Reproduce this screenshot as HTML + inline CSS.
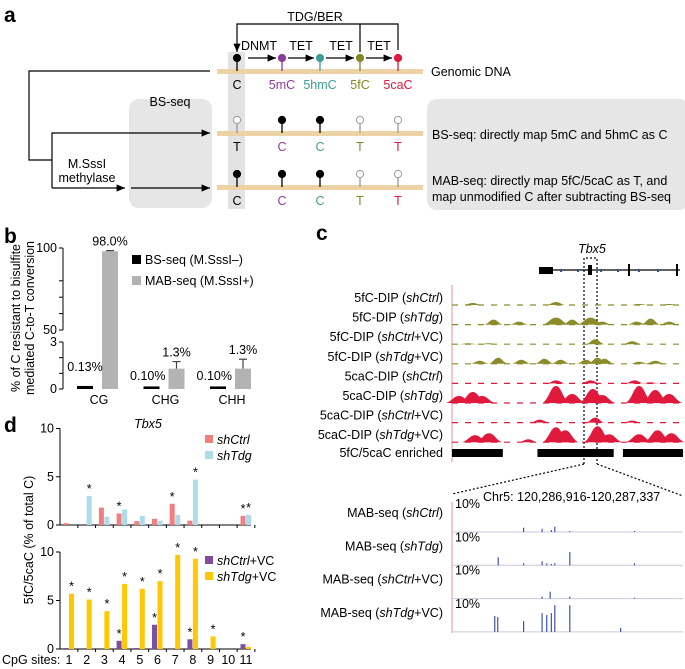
<!DOCTYPE html>
<html><head><meta charset="utf-8"><style>
body{margin:0;background:#fff}
svg{display:block;font-family:"Liberation Sans",Arial,sans-serif}
</style></head><body>
<svg id="fig" width="685" height="669" viewBox="0 0 685 669" xmlns="http://www.w3.org/2000/svg">
<defs>
<marker id="ar" markerWidth="8" markerHeight="8" refX="7" refY="4" orient="auto"><path d="M0,1 L7,4 L0,7 z" fill="#000"/></marker>
</defs>
<!-- Panel a -->
<g>
<text x="4" y="22" font-size="21" font-weight="bold">a</text>
<rect x="129" y="99" width="83" height="109" rx="10" fill="#e6e6e6"/>
<rect x="427" y="99" width="262" height="111" rx="10" fill="#e6e6e6"/>
<rect x="228" y="52" width="17" height="157" fill="#e3e3e3"/>
<text x="315" y="21" font-size="12.5" text-anchor="middle">TDG/BER</text>
<polyline points="398,50 398,24 237,24 237,52" fill="none" stroke="#000" stroke-width="1.2" marker-end="url(#ar)"/>
<line x1="360" y1="24" x2="360" y2="52" stroke="#000" stroke-width="1.2"/>
<text x="259" y="50" font-size="12.5" text-anchor="middle">DNMT</text>
<text x="301" y="50" font-size="12.5" text-anchor="middle">TET</text>
<text x="341" y="50" font-size="12.5" text-anchor="middle">TET</text>
<text x="379" y="50" font-size="12.5" text-anchor="middle">TET</text>
<g stroke="#000" stroke-width="1.2" marker-end="url(#ar)">
<line x1="248" y1="58" x2="276" y2="58"/><line x1="288" y1="58" x2="314" y2="58"/><line x1="326" y1="58" x2="354" y2="58"/><line x1="366" y1="58" x2="392" y2="58"/>
</g>
<rect x="217" y="69" width="206" height="5" fill="#ecd2a4"/>
<rect x="217" y="131" width="206" height="5" fill="#ecd2a4"/>
<rect x="217" y="185" width="206" height="5" fill="#ecd2a4"/>
<text x="431" y="76" font-size="12.5">Genomic DNA</text>
<g id="lolli"></g>
<g font-size="12.5" text-anchor="middle">
<text x="237" y="89">C</text><text x="282" y="89" fill="#8e3a9d">5mC</text><text x="320" y="89" fill="#3f9c96">5hmC</text><text x="360" y="89" fill="#7f8a23">5fC</text><text x="398" y="89" fill="#e0193d">5caC</text>
<text x="237" y="151">T</text><text x="282" y="151" fill="#8e3a9d">C</text><text x="320" y="151" fill="#3f9c96">C</text><text x="360" y="151" fill="#7f8a23">T</text><text x="398" y="151" fill="#e0193d">T</text>
<text x="237" y="205">C</text><text x="282" y="205" fill="#8e3a9d">C</text><text x="320" y="205" fill="#3f9c96">C</text><text x="360" y="205" fill="#7f8a23">T</text><text x="398" y="205" fill="#e0193d">T</text>
</g>
<polyline points="210,71 29,71 29,160 52,160" fill="none" stroke="#000" stroke-width="1.2"/>
<polyline points="52,188 52,133 210,133" fill="none" stroke="#000" stroke-width="1.2" marker-end="url(#ar)"/>
<polyline points="52,188 125,188" fill="none" stroke="#000" stroke-width="1.2" marker-end="url(#ar)"/>
<line x1="131" y1="188" x2="210" y2="188" stroke="#000" stroke-width="1.2" marker-end="url(#ar)"/>
<text x="170" y="106" font-size="12.5" text-anchor="middle">BS-seq</text>
<text x="87" y="168" font-size="12.5" text-anchor="middle">M.SssI</text>
<text x="87" y="182" font-size="12.5" text-anchor="middle">methylase</text>
<text x="432" y="139" font-size="12.5">BS-seq: directly map 5mC and 5hmC as C</text>
<text x="432" y="185" font-size="12.5">MAB-seq: directly map 5fC/5caC as T, and</text>
<text x="432" y="201" font-size="12.5">map unmodified C after subtracting BS-seq</text>
</g>
<!-- Panel b -->
<g id="pb">
<text x="4" y="243" font-size="21" font-weight="bold">b</text>
<text transform="translate(20,318) rotate(-90)" font-size="12.5" text-anchor="middle">% of C resistant to bisulfite</text>
<text transform="translate(34,318) rotate(-90)" font-size="12.5" text-anchor="middle">mediated C-to-T conversion</text>
<rect x="132" y="255" width="9" height="9" fill="#000"/>
<text x="145" y="264" font-size="12.5">BS-seq (M.SssI–)</text>
<rect x="132" y="276" width="9" height="9" fill="#b3b3b3"/>
<text x="145" y="285" font-size="12.5">MAB-seq (M.SssI+)</text>
</g>
<!-- Panel c -->
<g id="pc">
<text x="316" y="240" font-size="21" font-weight="bold">c</text>
<text x="592" y="253" font-size="12.5" font-style="italic" text-anchor="middle">Tbx5</text>
<line x1="539" y1="270" x2="680" y2="270" stroke="#000" stroke-width="1.3"/>
<rect x="539" y="267" width="14" height="7" fill="#000"/>
<rect x="588" y="265" width="4" height="10" fill="#000"/>
<rect x="628" y="264" width="2" height="12" fill="#000"/>
<rect x="676" y="264" width="2" height="12" fill="#000"/>
<g fill="#3050a0"><rect x="560" y="269" width="2" height="3"/><rect x="577" y="269" width="2" height="3"/><rect x="600" y="269" width="2" height="3"/><rect x="617" y="269" width="2" height="3"/><rect x="638" y="269" width="2" height="3"/><rect x="657" y="269" width="2" height="3"/></g>
<g stroke="#000" stroke-width="1.2" stroke-dasharray="2 2" fill="none">
<polyline points="584,464 584,258 597,258 597,464"/>
<line x1="584" y1="464" x2="452" y2="494"/><line x1="597" y1="464" x2="683" y2="496"/>
</g>
<line x1="452" y1="285" x2="452" y2="462" stroke="#f4a0a8" stroke-width="1.2"/>
<line x1="452" y1="502" x2="452" y2="633" stroke="#f4a0a8" stroke-width="1.2"/>
<text x="483" y="501" font-size="12.5">Chr5: 120,286,916-120,287,337</text>
<g id="tracks"></g>
<g id="mab"></g>
</g>
<!-- Panel d -->
<g id="pd">
<text x="4" y="432" font-size="21" font-weight="bold">d</text>
<text x="148" y="428" font-size="12.5" font-style="italic" text-anchor="middle">Tbx5</text>
<text transform="translate(33,540) rotate(-90)" font-size="12.5" text-anchor="middle">5fC/5caC (% of total C)</text>
<rect x="205" y="435" width="8" height="8" fill="#f07f7f"/><text x="217" y="444" font-size="12.5" font-style="italic">shCtrl</text>
<rect x="205" y="451" width="8" height="8" fill="#aedbea"/><text x="217" y="460" font-size="12.5" font-style="italic">shTdg</text>
<rect x="205" y="556" width="8" height="8" fill="#7e4ea1"/><text x="217" y="565" font-size="12.5"><tspan font-style="italic">shCtrl</tspan>+VC</text>
<rect x="205" y="572" width="8" height="8" fill="#ffc800"/><text x="217" y="581" font-size="12.5"><tspan font-style="italic">shTdg</tspan>+VC</text>
<text x="2" y="664" font-size="12.5">CpG sites:</text>
</g>
</svg>
<script>
// ---------- Panel b data ----------
const bCategories = ["CG","CHG","CHH"];
const bsValues = [0.13,0.10,0.10];
const mabValues = [98.0,1.3,1.3];
const mabErr = [0.4,0.45,0.6];
const bsLabels = ["0.13%","0.10%","0.10%"];
const mabLabels = ["98.0%","1.3%","1.3%"];
const bUpperTicks = [50,60,70,80,100];
const bLowerTicks = [0,1,2,3];
// ---------- Panel d data ----------
const sites = ["1","2","3","4","5","6","7","8","9","10","11"];
const shCtrl = [0.2,0,1.8,1.2,0.4,0.65,2.2,0.45,0,0,0.95];
const shTdg = [0,3.0,0.85,1.6,0.95,0.45,1.05,4.7,0,0,1.05];
const shCtrlVC = [0.1,0,0,0.85,0.1,2.5,0,1.0,0,0,0.5];
const shTdgVC = [5.7,5.1,3.9,6.7,6.2,7.0,9.7,9.3,1.3,0,0.2];
const starsTopCtrl = [4,7,11];
const starsTopTdg = [2,8,11];
const starsBotCtrl = [4,6,8,11];
const starsBotTdg = [1,2,3,4,5,6,7,8,9];
const dTicks = [0,5,10];
// ---------- Panel c data (positions 0-100 across locus, heights in relative units) ----------
const trackNames = ["5fC-DIP (|shCtrl|)","5fC-DIP (|shTdg|)","5fC-DIP (|shCtrl|+VC)","5fC-DIP (|shTdg|+VC)","5caC-DIP (|shCtrl|)","5caC-DIP (|shTdg|)","5caC-DIP (|shCtrl|+VC)","5caC-DIP (|shTdg|+VC)"];
const peaks0 = [[9,2],[45,3],[81,1],[94,1]];
const peaks1 = [[18,5],[29,3],[45,7],[52,5],[60,7],[65,3],[80,3],[86,6],[94,3]];
const peaks2 = [[7,1],[16,1],[62,5],[78,3]];
const peaks3 = [[12,3],[20,6],[30,4],[40,5],[47,4],[58,4],[63,6],[66,5],[81,2],[88,3]];
const peaks4 = [[45,3],[60,3],[79,3],[86,1]];
const peaks5 = [[3,7],[9,11],[13,7],[45,17],[52,9],[61,14],[65,8],[81,17],[88,13],[94,9]];
const peaks6 = [[38,3],[62,5],[78,2]];
const peaks7 = [[10,7],[16,9],[33,3],[45,15],[49,12],[63,16],[68,8],[81,8],[89,12],[95,9]];
const enriched = [[0,22],[37,70],[74,100]];
const mabNames = ["MAB-seq (|shCtrl|)","MAB-seq (|shTdg|)","MAB-seq (|shCtrl|+VC)","MAB-seq (|shTdg|+VC)"];
const mab0 = [[31,1.3],[39,1],[43,0.6],[44.5,1.6],[51,0.3],[79,0.3]];
const mab1 = [[20,2.4],[31,0.6],[39,1.2],[41,0.6],[43,0.4],[44.5,0.6],[51,4],[79,0.6]];
const mab2 = [[39,0.6],[42.5,2.1],[51,0.6],[79,0.3]];
const mab3 = [[18.5,4.8],[19.8,4.5],[31,3.3],[39,5.7],[41,5.1],[43,5.7],[44.5,8.1],[51,8.1],[73,1.2]];

const NS="http://www.w3.org/2000/svg";
function mk(parent,tag,attrs,text){const e=document.createElementNS(NS,tag);for(const k in attrs)e.setAttribute(k,attrs[k]);if(text!==undefined)e.textContent=text;parent.appendChild(e);return e;}
function richText(parent,x,y,str,anchor){const t=mk(parent,"text",{x:x,y:y,"font-size":12.5,"text-anchor":anchor});str.split("|").forEach((s,i)=>{const sp=mk(t,"tspan",{});sp.textContent=s;if(i%2===1)sp.setAttribute("font-style","italic");});return t;}

// ---------- lollipops (panel a) ----------
const lol=document.getElementById("lolli");
const lx=[237,282,320,360,398];
const rowDefs=[[71,["#000","#8e3a9d","#3f9c96","#7f8a23","#e0193d"],[1,1,1,1,1]],[133,["#999","#000","#000","#999","#999"],[0,1,1,0,0]],[187,["#000","#000","#000","#999","#999"],[1,1,1,0,0]]];
rowDefs.forEach(r=>{lx.forEach((x,i)=>{mk(lol,"line",{x1:x,y1:r[0],x2:x,y2:r[0]-12,stroke:r[1][i],"stroke-width":1.3});mk(lol,"circle",{cx:x,cy:r[0]-13,r:3.6,fill:r[2][i]?r[1][i]:"#fff",stroke:r[1][i],"stroke-width":1});});});

// ---------- Panel b ----------
const pb=document.getElementById("pb");
function yb(v){return v>=50?330-(v-50)*1.64:389-v*15.67;}
const bAxX=63;
mk(pb,"line",{x1:bAxX,y1:yb(100),x2:bAxX,y2:yb(50),stroke:"#000"});
mk(pb,"line",{x1:bAxX,y1:yb(3),x2:bAxX,y2:yb(0),stroke:"#000"});
bUpperTicks.concat(bLowerTicks).forEach(t=>{const y=yb(t);mk(pb,"line",{x1:bAxX-4,y1:y,x2:bAxX,y2:y,stroke:"#000"});});
[100,50,3,0].forEach(t=>{const tx=mk(pb,"text",{x:bAxX-6,y:yb(t)+4,"font-size":12.5,"text-anchor":"end"},String(t));

});
bCategories.forEach((c,i)=>{const cx=99+i*66.5;
 const b1=mk(pb,"rect",{x:cx-22,y:yb(bsValues[i])-1,width:16,height:389-yb(bsValues[i])+1,fill:"#000"});
 
 
 const b2=mk(pb,"rect",{x:cx+3,y:yb(mabValues[i]),width:16,height:389-yb(mabValues[i]),fill:"#b3b3b3"});
 
 
 const et=yb(mabValues[i]+mabErr[i]);
 mk(pb,"line",{x1:cx+11,y1:et,x2:cx+11,y2:yb(mabValues[i]),stroke:"#444","stroke-width":1.2});
 mk(pb,"line",{x1:cx+7,y1:et,x2:cx+15,y2:et,stroke:"#444","stroke-width":1.2});
 mk(pb,"text",{x:cx+11,y:i===0?yb(mabValues[i])-6:et-5,"font-size":12.5,"text-anchor":"middle"},mabLabels[i]);
 mk(pb,"text",{x:cx-(i===0?14:0),y:i===0?371:380,"font-size":12.5,"text-anchor":i===0?"middle":"end"},bsLabels[i]);
 const cl=mk(pb,"text",{x:cx,y:404,"font-size":12.5,"text-anchor":"middle"},c);
 
 
});

// ---------- Panel d ----------
const pd=document.getElementById("pd");
function sx(i){return 69+i*17.7;}
function yT(v){return 525-v*9.65;}
function yBt(v){return 649-v*9.7;}
function drawAxes(yf){
 mk(pd,"line",{x1:60,y1:yf(10),x2:60,y2:yf(0),stroke:"#000"});
 mk(pd,"line",{x1:60,y1:yf(0),x2:251,y2:yf(0),stroke:"#000"});
 dTicks.forEach(t=>{mk(pd,"line",{x1:56,y1:yf(t),x2:60,y2:yf(t),stroke:"#000"});
  const tl=mk(pd,"text",{x:54,y:yf(t)+4,"font-size":12.5,"text-anchor":"end"},String(t));
  
  });
 sites.forEach((s,i)=>{mk(pd,"line",{x1:sx(i)+8.85,y1:yf(0),x2:sx(i)+8.85,y2:yf(0)+3,stroke:"#000"});});
}
drawAxes(yT);drawAxes(yBt);
sites.forEach((s,i)=>{const l=mk(pd,"text",{x:sx(i),y:664,"font-size":12.5,"text-anchor":"middle"},s);
 
 });
function bars(vals,yf,off,col,name){vals.forEach((v,i)=>{if(v<=0)return;const r=mk(pd,"rect",{x:sx(i)+off,y:yf(v),width:5,height:yf(0)-yf(v),fill:col});
 
 });}
bars(shCtrl,yT,-5.5,"#f07f7f","bar-shctrl");
bars(shTdg,yT,0,"#aedbea","bar-shtdg");
bars(shCtrlVC,yBt,-5.5,"#7e4ea1","bar-shctrl-vc");
bars(shTdgVC,yBt,0,"#ffc800","bar-shtdg-vc");
function stars(list,vals,yf,off){list.forEach(s=>{const i=s-1;mk(pd,"text",{x:sx(i)+off,y:yf(vals[i])-3,"font-size":12.5,"text-anchor":"middle"},"*");});}
stars(starsTopCtrl,shCtrl,yT,-3);stars(starsTopTdg,shTdg,yT,2.5);
stars(starsBotCtrl,shCtrlVC,yBt,-3);stars(starsBotTdg,shTdgVC,yBt,2.5);

// ---------- Panel c ----------
const tr=document.getElementById("tracks");
function px(p){return 452+p*2.31;}
const allPeaks=[peaks0,peaks1,peaks2,peaks3,peaks4,peaks5,peaks6,peaks7];
allPeaks.forEach((pk,r)=>{const base=305+r*19.6;const col=r<4?"#8b8b2a":"#e0193d";
 richText(tr,443,base-3,trackNames[r],"end");
 mk(tr,"line",{x1:452,y1:base,x2:683,y2:base,stroke:col,"stroke-width":1.2,"stroke-dasharray":"6 7"});
 pk.forEach(p=>{const c=px(p[0]),h=p[1],w=p[1]>6?13:9;
  const path=mk(tr,"path",{d:`M${c-w},${base} C${c-w*0.5},${base-h*0.3} ${c-w*0.4},${base-h} ${c},${base-h} C${c+w*0.4},${base-h} ${c+w*0.5},${base-h*0.3} ${c+w},${base} Z`,fill:col});
  
  });
});
richText(tr,443,457,"5fC/5caC enriched","end");
enriched.forEach(e=>{const r=mk(tr,"rect",{x:px(e[0]),y:449,width:px(e[1])-px(e[0]),height:8,fill:"#000"});
 
 });
const mb=document.getElementById("mab");
[mab0,mab1,mab2,mab3].forEach((m,r)=>{const base=532+r*33.3;
 richText(mb,443,base-15,mabNames[r],"end");
 mk(mb,"line",{x1:452,y1:base,x2:683,y2:base,stroke:"#c8c8d8","stroke-width":1});
 mk(mb,"text",{x:455,y:base-24,"font-size":12.5},"10%");
 m.forEach(v=>{const l=mk(mb,"line",{x1:px(v[0]),y1:base,x2:px(v[0]),y2:base-v[1]*3.3,stroke:"#4050a8","stroke-width":1.2});
  
  });
});
</script>
</body></html>
